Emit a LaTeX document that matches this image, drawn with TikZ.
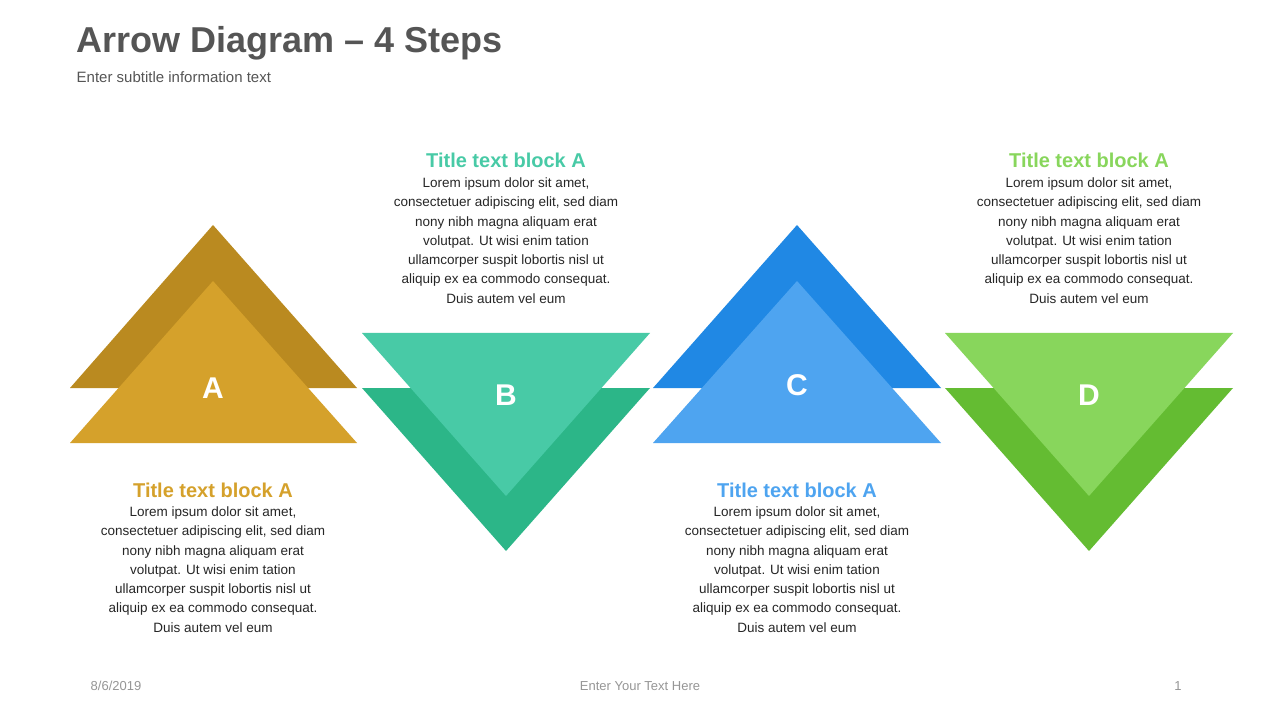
\documentclass[tikz,border=0pt]{standalone}
\usepackage{fontspec}
\setmainfont{Liberation Sans}
\definecolor{goldDark}{RGB}{186,138,32}
\definecolor{goldLight}{RGB}{213,161,43}
\definecolor{tealLight}{RGB}{72,202,166}
\definecolor{tealDark}{RGB}{44,182,136}
\definecolor{blueDark}{RGB}{32,136,228}
\definecolor{blueLight}{RGB}{78,164,240}
\definecolor{greenLight}{RGB}{136,214,92}
\definecolor{greenDark}{RGB}{100,188,50}
\definecolor{headGray}{RGB}{85,85,85}
\definecolor{footGray}{RGB}{150,150,150}
\tikzset{every picture/.style={line width=0.75pt},
  blocktitle/.style={font=\fontsize{20}{22}\selectfont\bfseries},
  blockbody/.style={align=center,font=\fontsize{13.5}{19.3}\selectfont,text=black!85,anchor=north},
  letter/.style={font=\fontsize{30}{32}\selectfont\bfseries,text=white}}
\newcommand{\loremtext}{Lorem ipsum dolor sit amet,\\consectetuer adipiscing elit, sed diam\\nony nibh magna aliquam erat\\volutpat. Ut wisi enim tation\\ullamcorper suspit lobortis nisl ut\\aliquip ex ea commodo consequat.\\Duis autem vel eum}
\begin{document}
\begin{tikzpicture}[x=1pt,y=1pt,yscale=-1,xscale=1]
%background
\fill[white] (0,0) rectangle (1280,719);
%header
\node[anchor=west,font=\fontsize{36}{38}\selectfont\bfseries,text=headGray] (title) at (73,43) {Arrow Diagram – 4 Steps};
\node[anchor=west,font=\fontsize{15}{17}\selectfont,text=headGray] (subtitle) at (73,77) {Enter subtitle information text};
%step A
\fill[goldDark] (70,388) -- (213,225) -- (357,388) -- cycle;
\fill[goldLight] (70,443) -- (213,281) -- (357,443) -- cycle;
\node[letter] (a) at (213,388) {A};
%step B
\fill[tealDark] (362,388) -- (650,388) -- (506,551) -- cycle;
\fill[tealLight] (362,333) -- (650,333) -- (506,496) -- cycle;
\node[letter] (b) at (506,395) {B};
%step C
\fill[blueDark] (653,388) -- (797,225) -- (941,388) -- cycle;
\fill[blueLight] (653,443) -- (797,281) -- (941,443) -- cycle;
\node[letter] (c) at (797,385) {C};
%step D
\fill[greenDark] (945,388) -- (1233,388) -- (1089,551) -- cycle;
\fill[greenLight] (945,333) -- (1233,333) -- (1089,496) -- cycle;
\node[letter] (d) at (1089,395) {D};
%text blocks
\node[blocktitle,text=goldLight] (ta) at (213,490) {Title text block A};
\node[blockbody] (ba) at (213,503) {\loremtext};
\node[blocktitle,text=tealLight] (tb) at (506,160) {Title text block A};
\node[blockbody] (bb) at (506,174) {\loremtext};
\node[blocktitle,text=blueLight] (tc) at (797,490) {Title text block A};
\node[blockbody] (bc) at (797,503) {\loremtext};
\node[blocktitle,text=greenLight] (td) at (1089,160) {Title text block A};
\node[blockbody] (bd) at (1089,174) {\loremtext};
%footer
\node[font=\fontsize{13}{15}\selectfont,text=footGray] (date) at (116,686) {8/6/2019};
\node[font=\fontsize{13}{15}\selectfont,text=footGray] (foot) at (640,686) {Enter Your Text Here};
\node[font=\fontsize{13}{15}\selectfont,text=footGray] (page) at (1178,686) {1};
\end{tikzpicture}
\end{document}
